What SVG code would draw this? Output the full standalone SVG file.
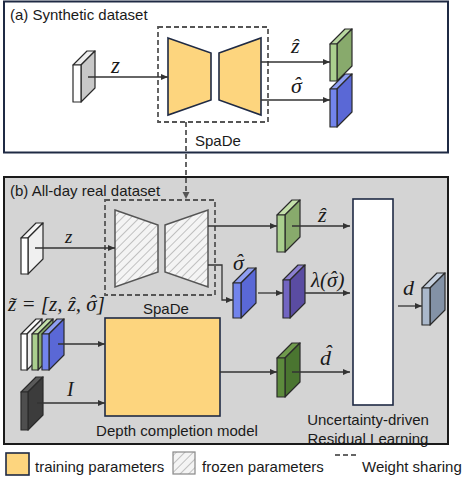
<svg xmlns="http://www.w3.org/2000/svg" width="474" height="485" viewBox="0 0 474 485">
<defs>
<style>
.sans{font-family:"Liberation Sans",Arial,sans-serif;fill:#1a1a1a}
.math{font-family:"Liberation Serif","DejaVu Serif",serif;font-style:italic;fill:#1a1a1a}
.slab{stroke:#2a2a2a;stroke-width:1.2;stroke-linejoin:round}
.arr{stroke:#333;stroke-width:1.3;fill:none;marker-end:url(#ah)}
.dash{stroke:#555;stroke-width:1.8;fill:none;stroke-dasharray:5,3}
.train{fill:#fdd57e;stroke:#1f2a44;stroke-width:1.6}
.frozen{fill:url(#hatch);stroke:#555;stroke-width:1.5}
</style>
<marker id="ah" markerWidth="7" markerHeight="6" refX="7" refY="3" orient="auto" markerUnits="userSpaceOnUse">
<path d="M0,0 L7,3 L0,6 z" fill="#333"/>
</marker>
<pattern id="hatch" width="6" height="6" patternUnits="userSpaceOnUse" patternTransform="rotate(45)">
<rect width="6" height="6" fill="#f4f4f4"/>
<line x1="0" y1="0" x2="0" y2="6" stroke="#aaa" stroke-width="1.4"/>
</pattern>
</defs>

<!-- Panel (a) -->
<g id="panel-a">
<rect x="4" y="1.5" width="444" height="151" fill="#fff" stroke="#1f2a44" stroke-width="2"/>
<text class="sans" x="10" y="20" font-size="15">(a) Synthetic dataset</text>
</g>
<!-- Panel (b) -->
<g id="panel-b">
<rect x="4" y="177" width="444" height="267" fill="#d4d4d4"/>
<text class="sans" x="10" y="196" font-size="15">(b) All-day real dataset</text>
</g>

<!-- (a) nodes -->
<g id="a-input-z">
<polygon class="slab" points="73,65 81,65 95,51 87,51" fill="#eee"/>
<polygon class="slab" points="81,65 95,51 95,88 81,102" fill="#c8c8c8"/>
<rect class="slab" x="73" y="65" width="8" height="37" fill="#fff"/>
</g>
<g id="a-spade">
<rect class="dash" x="158" y="27" width="110" height="95"/>
<polygon class="train" points="168,38 211,53 211,100 168,115" stroke="#222"/>
<polygon class="train" points="219,53 261,38 261,115 219,100" stroke="#222"/>
<text class="sans" x="195" y="146" font-size="15">SpaDe</text>
</g>
<g id="a-out-zhat">
<polygon class="slab" points="330,44 337,44 352,29 345,29" fill="#b8d7a0"/>
<polygon class="slab" points="337,44 352,29 352,66 337,81" fill="#88aa6c"/>
<rect class="slab" x="330" y="44" width="7" height="37" fill="#aacf8e"/>
</g>
<g id="a-out-sigma">
<polygon class="slab" points="330,89 337,89 352,74 345,74" fill="#8e9ef2"/>
<polygon class="slab" points="337,89 352,74 352,112 337,127" fill="#5a68d6"/>
<rect class="slab" x="330" y="89" width="7" height="38" fill="#7284ec"/>
</g>

<!-- (b) nodes -->
<g id="b-input-z">
<polygon class="slab" points="21,238 28,238 43,223 36,223" fill="#f4f4f4"/>
<polygon class="slab" points="28,238 43,223 43,259 28,274" fill="#f0f0f0"/>
<rect class="slab" x="21" y="238" width="7" height="36" fill="#fff"/>
</g>
<g id="b-spade">
<rect class="dash" x="105" y="200" width="110" height="95"/>
<polygon class="frozen" points="115,210 158,225 158,272 115,287"/>
<polygon class="frozen" points="165,225 208,210 208,287 165,272"/>
<text class="sans" x="143" y="314" font-size="15">SpaDe</text>
</g>
<g id="b-zhat">
<polygon class="slab" points="277,215 285,215 300,200 292,200" fill="#c4e0aa"/>
<polygon class="slab" points="285,215 300,200 300,237 285,252" fill="#88aa6c"/>
<rect class="slab" x="277" y="215" width="8" height="37" fill="#aacf8e"/>
</g>
<g id="b-sigma">
<polygon class="slab" points="233,283 241,283 256,268 248,268" fill="#8e9ef2"/>
<polygon class="slab" points="241,283 256,268 256,303 241,318" fill="#5a68d6"/>
<rect class="slab" x="233" y="283" width="8" height="35" fill="#7284ec"/>
</g>
<g id="b-lambda">
<polygon class="slab" points="283,280 290,280 305,265 298,265" fill="#8b7fd0"/>
<polygon class="slab" points="290,280 305,265 305,303 290,318" fill="#5a4ca2"/>
<rect class="slab" x="283" y="280" width="7" height="38" fill="#7265c2"/>
</g>
<g id="b-ztilde">
<polygon class="slab" points="21,334 27,334 42,319 36,319" fill="#fafafa"/>
<polygon class="slab" points="27,334 42,319 42,355 27,370" fill="#eee"/>
<rect class="slab" x="21" y="334" width="6" height="36" fill="#fff"/>
<polygon class="slab" points="32,334 38,334 53,319 47,319" fill="#c4e0aa"/>
<polygon class="slab" points="38,334 53,319 53,355 38,370" fill="#88aa6c"/>
<rect class="slab" x="32" y="334" width="6" height="36" fill="#aacf8e"/>
<polygon class="slab" points="42,334 49,334 64,319 57,319" fill="#8e9ef2"/>
<polygon class="slab" points="49,334 64,319 64,355 49,370" fill="#5a68d6"/>
<rect class="slab" x="42" y="334" width="7" height="36" fill="#7284ec"/>
</g>
<g id="b-image">
<polygon class="slab" points="21,392 28,392 43,377 36,377" fill="#5a5a5a"/>
<polygon class="slab" points="28,392 43,377 43,415 28,430" fill="#3c3c3c"/>
<rect class="slab" x="21" y="392" width="7" height="38" fill="#4e4e4e"/>
</g>
<g id="b-depth-model">
<rect class="train" x="105" y="318" width="115" height="98"/>
<text class="sans" x="177" y="436" font-size="15" text-anchor="middle">Depth completion model</text>
</g>
<g id="b-dhat">
<polygon class="slab" points="277,358 285,358 300,343 292,343" fill="#6f9a4c"/>
<polygon class="slab" points="285,358 300,343 300,382 285,397" fill="#4a7530"/>
<rect class="slab" x="277" y="358" width="8" height="39" fill="#5c8a3c"/>
</g>
<g id="b-residual">
<rect x="353" y="199" width="40" height="206" fill="#fff" stroke="#1f2a44" stroke-width="1.6"/>
<text class="sans" x="368" y="425" font-size="15" text-anchor="middle">Uncertainty-driven</text>
<text class="sans" x="368" y="443.5" font-size="15" text-anchor="middle">Residual Learning</text>
</g>
<g id="b-output-d">
<polygon class="slab" points="422,288 430,288 445,273 437,273" fill="#c5d0de"/>
<polygon class="slab" points="430,288 445,273 445,310 430,325" fill="#8392a6"/>
<rect class="slab" x="422" y="288" width="8" height="37" fill="#aab8cb"/>
</g>
<!-- panel (b) border on top -->
<rect x="4" y="177" width="444" height="267" fill="none" stroke="#1a1a1a" stroke-width="2"/>

<!-- connectors -->
<g id="connectors">
<line class="arr" x1="88" y1="77" x2="168" y2="77"/>
<line class="arr" x1="261" y1="62" x2="330" y2="62"/>
<line class="arr" x1="261" y1="100" x2="330" y2="100"/>
<line class="dash" x1="186" y1="122" x2="186" y2="192"/>
<path d="M182.5,192 L186,199 L189.5,192 z" fill="#555"/>
<line class="arr" x1="35" y1="248" x2="115" y2="248"/>
<line class="arr" x1="208" y1="226" x2="277" y2="226"/>
<line class="arr" x1="292" y1="226" x2="350" y2="226"/>
<polyline class="arr" points="208,265 222,265 222,300 233,300"/>
<line class="arr" x1="258" y1="293" x2="283" y2="293"/>
<line class="arr" x1="305" y1="293" x2="350" y2="293"/>
<line class="arr" x1="398" y1="306" x2="422" y2="306"/>
<line class="arr" x1="58" y1="344" x2="105" y2="344"/>
<line class="arr" x1="37" y1="403" x2="105" y2="403"/>
<line class="arr" x1="220" y1="372" x2="277" y2="372"/>
<line class="arr" x1="292" y1="372" x2="350" y2="372"/>
</g>

<!-- math labels -->
<g id="labels">
<text class="math" x="111" y="73" font-size="23">z</text>
<text class="math" x="291" y="53" font-size="22">ẑ</text>
<text class="math" x="291" y="93" font-size="22">σ<tspan dx="-8.5" dy="-1">ˆ</tspan></text>
<text class="math" x="65" y="243" font-size="19">z</text>
<text class="math" x="318" y="222" font-size="22">ẑ</text>
<text class="math" x="233" y="270" font-size="22">σ<tspan dx="-8.5" dy="-1">ˆ</tspan></text>
<text class="math" x="311" y="287" font-size="21">λ(σ<tspan dx="-8.2" dy="-1">ˆ</tspan><tspan dx="1.2" dy="1">)</tspan></text>
<text class="math" x="403" y="295" font-size="22">d</text>
<text class="math" x="8" y="311" font-size="21">z̃ = [z, ẑ, σ<tspan dx="-8.2" dy="-1">ˆ</tspan><tspan dx="1.2" dy="1">]</tspan></text>
<text class="math" x="67" y="396" font-size="20">I</text>
<text class="math" x="320" y="365" font-size="22">d<tspan dx="-6.8" dy="-5">ˆ</tspan></text>
</g>

<!-- legend -->
<g id="legend">
<rect class="train" x="6" y="453" width="23" height="22"/>
<text class="sans" x="35" y="472" font-size="15">training parameters</text>
<rect x="173" y="452" width="22" height="22" fill="url(#hatch)" stroke="#888" stroke-width="1.2"/>
<text class="sans" x="202" y="472" font-size="15">frozen parameters</text>
<line x1="335" y1="455" x2="357" y2="455" stroke="#333" stroke-width="1.4" stroke-dasharray="5,3"/>
<text class="sans" x="362" y="472" font-size="15">Weight sharing</text>
</g>
</svg>
